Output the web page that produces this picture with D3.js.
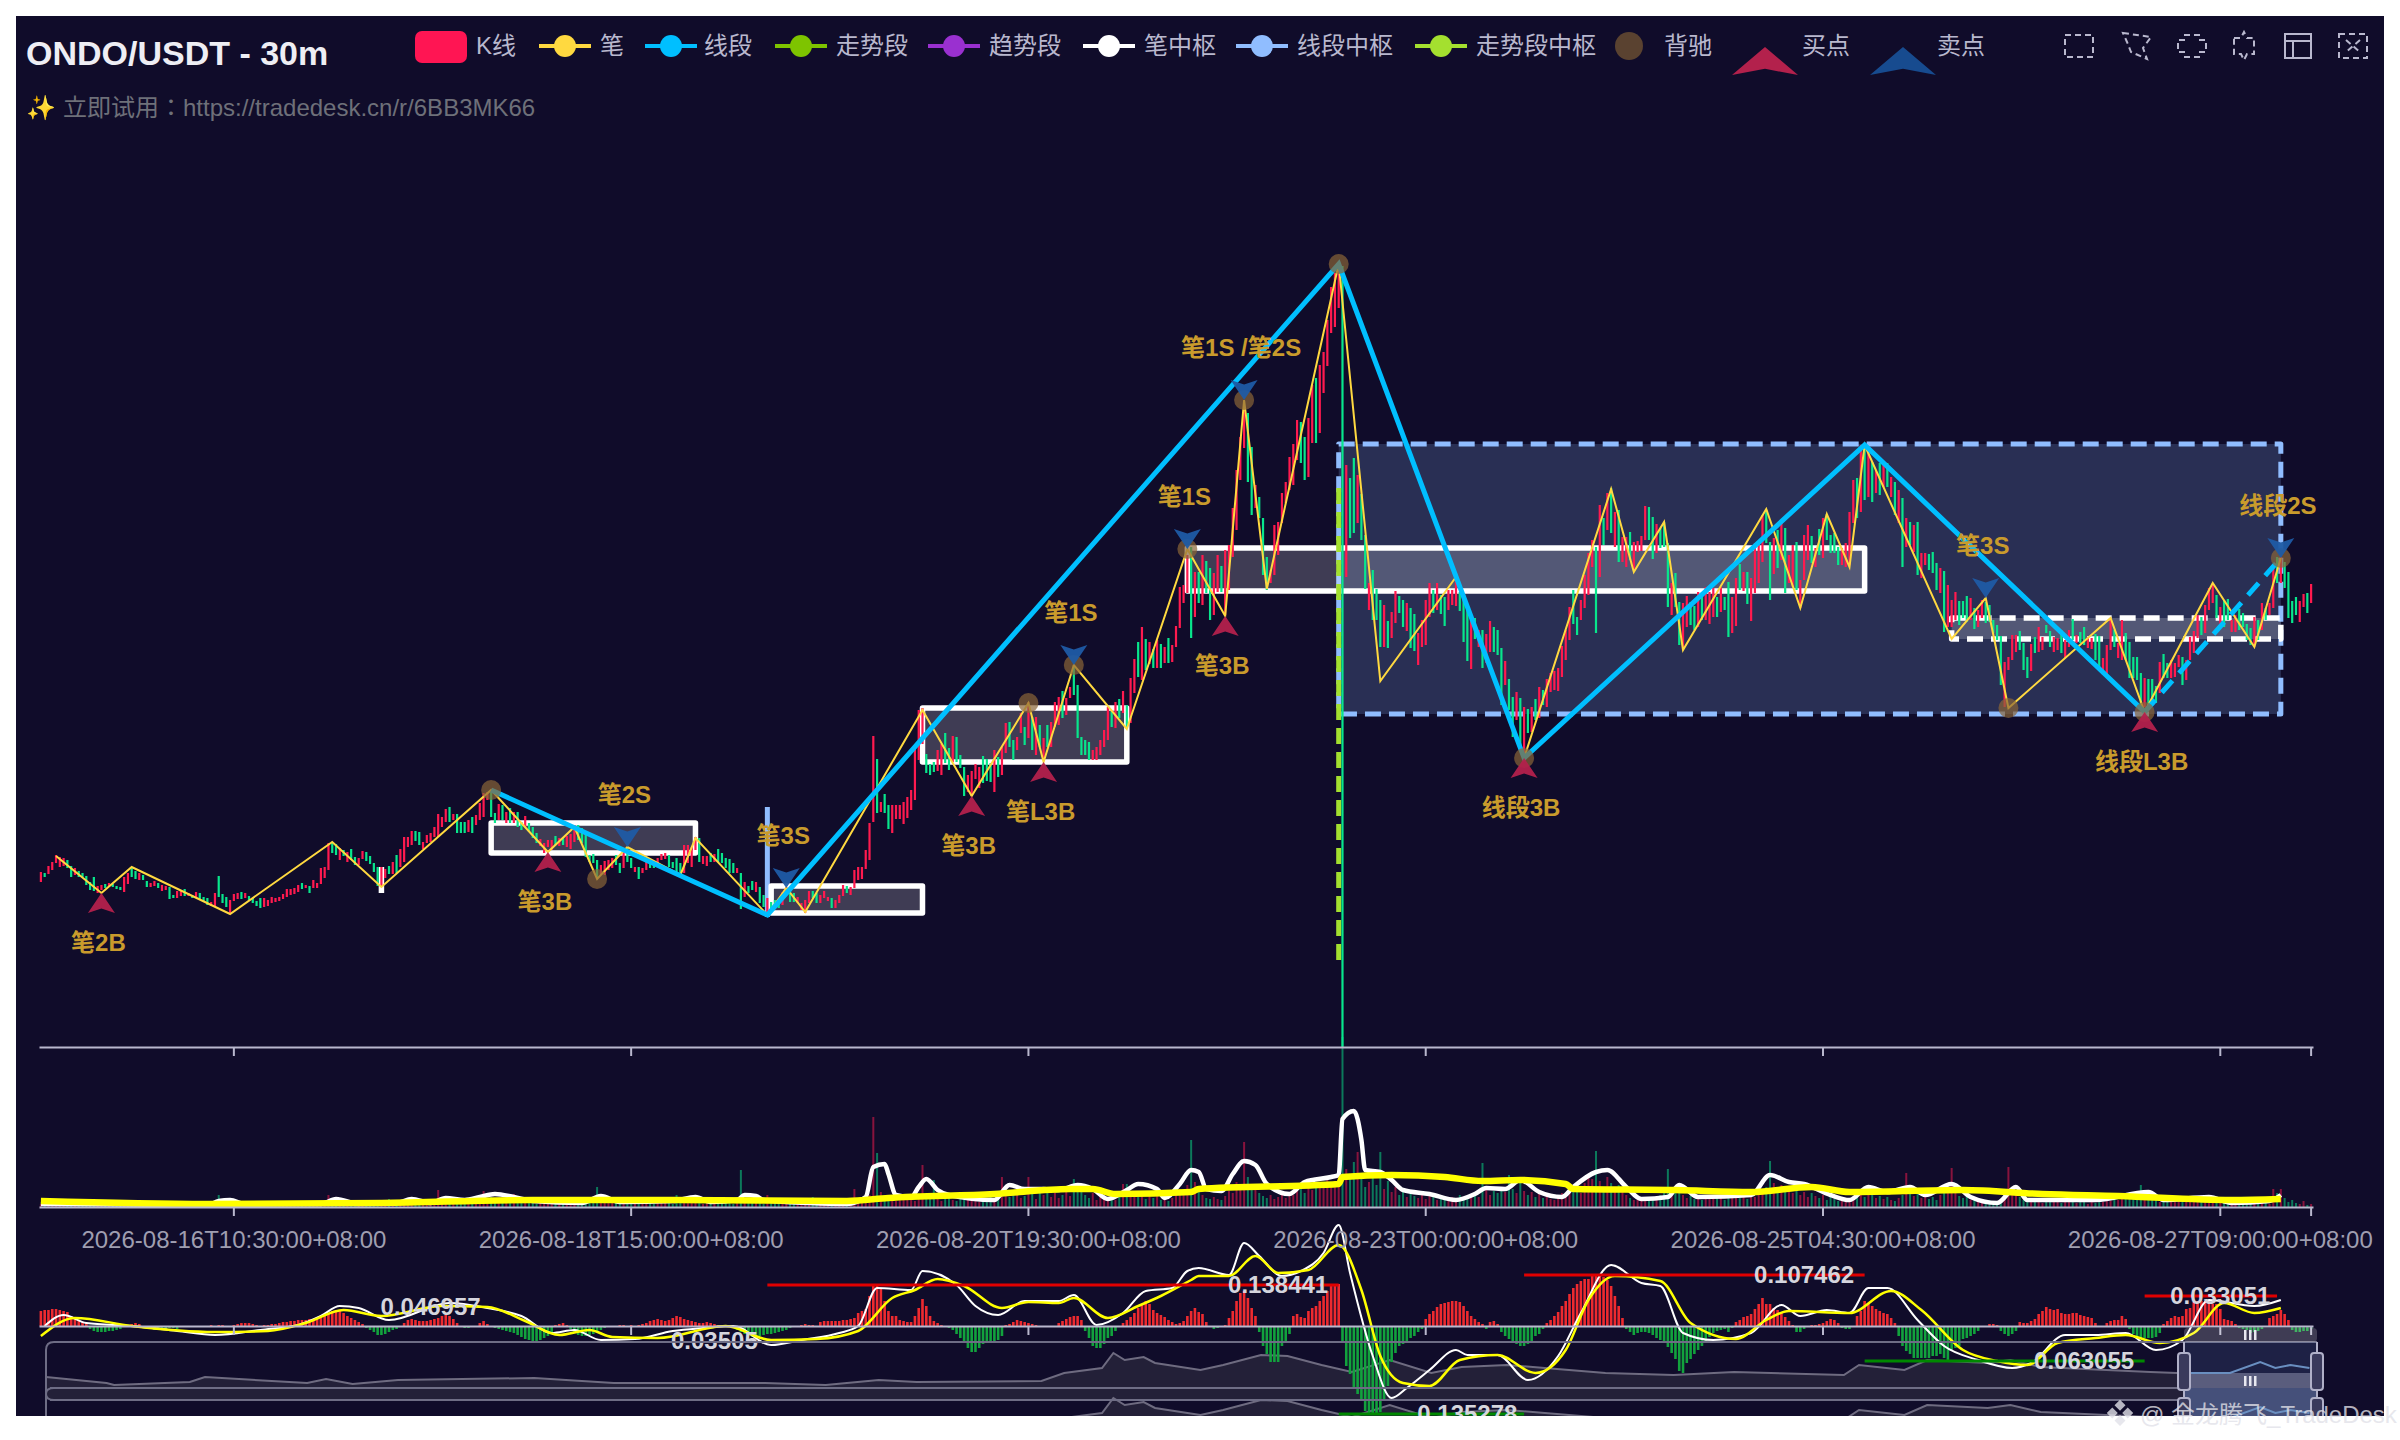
<!DOCTYPE html>
<html>
<head>
<meta charset="utf-8">
<title>ONDO/USDT - 30m</title>
<script src="https://cdn.jsdelivr.net/npm/d3@7"></script>
<style>
  html, body { margin: 0; background: #fff; }
  svg { display: block; }
  text { font-family: "Liberation Sans", "Noto Sans CJK JP", sans-serif; }
</style>
</head>
<body>
<svg id="chart" width="2400" height="1440"></svg>
<script>
// price is read off the picture in chart units (the original has no price axis)
// each bar is [open, close], red when close > open
const candleBars = [
[165,175],[174,170],[173,181],[177,185],[184,192],[180,190],[181,189],[187,179],[181,170],[172,179],
[176,170],[174,170],[171,162],[165,157],[170,156],[154,161],[157,162],[163,159],[160,164],[163,160],
[161,158],[160,157],[155,170],[163,174],[179,170],[176,168],[167,174],[172,167],[166,160],[160,164],
[161,166],[164,159],[156,162],[157,161],[160,148],[152,149],[149,156],[151,156],[158,151],[151,154],
[152,149],[149,155],[154,148],[150,145],[149,142],[141,145],[140,154],[171,150],[153,144],[150,140],
[133,147],[146,153],[148,154],[155,148],[149,154],[151,146],[149,144],[146,141],[149,139],[140,149],
[141,147],[144,150],[145,149],[146,150],[148,153],[150,158],[152,158],[153,159],[155,162],[164,158],
[159,162],[161,154],[159,167],[159,164],[163,179],[169,180],[177,204],[205,194],[203,192],[187,199],
[197,191],[185,195],[198,187],[190,182],[182,189],[188,196],[195,186],[191,183],[184,175],[180,161],
[160,180],[169,178],[181,173],[173,185],[192,174],[180,198],[185,210],[200,210],[202,216],[216,206],
[215,202],[198,205],[204,212],[205,214],[210,220],[210,233],[220,230],[225,238],[240,225],[227,233],
[233,214],[225,214],[225,214],[215,227],[230,214],[222,232],[227,244],[230,254],[247,255],[255,230],
[234,224],[227,243],[242,227],[224,235],[239,224],[224,235],[235,220],[225,217],[220,231],[224,215],
[220,209],[214,204],[201,208],[194,204],[200,207],[197,207],[211,202],[201,209],[210,202],[200,211],
[198,213],[205,222],[222,207],[219,204],[214,190],[192,185],[193,184],[187,168],[172,182],[172,186],
[177,187],[179,189],[192,182],[184,174],[179,195],[200,185],[189,179],[175,180],[180,168],[174,179],
[177,185],[187,179],[185,179],[182,189],[187,193],[188,194],[192,180],[185,179],[189,174],[184,172],
[174,202],[184,202],[180,200],[197,210],[209,185],[183,191],[181,191],[194,185],[185,193],[198,185],
[194,184],[189,179],[188,174],[184,174],[174,179],[174,138],[150,165],[161,154],[166,157],[155,165],
[160,144],[152,140],[131,149],[145,137],[147,138],[144,139],[142,155],[152,160],[159,145],[154,145],
[144,150],[137,144],[134,147],[144,156],[156,149],[154,144],[144,152],[149,156],[146,150],[149,139],
[139,147],[144,152],[151,162],[161,154],[152,160],[159,177],[167,180],[168,180],[178,197],[187,224],
[225,311],[288,234],[235,245],[253,234],[242,218],[214,242],[228,242],[228,242],[223,245],[229,250],
[237,257],[247,299],[287,337],[303,339],[293,274],[283,272],[285,275],[276,297],[272,303],[314,284],
[299,277],[285,311],[310,285],[292,279],[280,251],[255,272],[251,276],[268,283],[259,280],[291,264],
[288,266],[284,265],[255,297],[290,270],[272,300],[294,324],[325,300],[307,287],[297,310],[314,334],
[320,302],[309,345],[330,297],[292,330],[322,300],[287,309],[322,300],[300,325],[320,345],[322,350],
[356,329],[332,349],[349,360],[382,352],[362,309],[310,292],[307,292],[305,287],[287,297],[287,300],
[292,307],[300,317],[307,340],[336,320],[319,345],[348,329],[334,356],[342,319],[324,369],[354,388],
[405,370],[367,420],[408,377],[383,405],[398,379],[379,407],[403,379],[384,400],[409,384],[385,402],
[400,421],[419,460],[444,462],[454,492],[500,409],[430,475],[475,444],[442,492],[486,454],[479,427],
[432,474],[455,492],[481,455],[432,497],[457,502],[490,539],[517,577],[567,610],[599,640],[634,565],
[600,532],[539,562],[550,529],[529,472],[490,457],[464,477],[472,522],[492,525],[524,554],[544,565],
[557,590],[562,603],[587,627],[625,584],[610,567],[570,629],[604,662],[669,604],[614,682],[654,695],
[681,727],[714,760],[720,774],[739,782],[781,0],[470,582],[569,509],[589,514],[524,572],[553,507],
[512,458],[437,464],[477,427],[458,427],[447,400],[400,442],[426,399],[409,435],[424,456],[451,434],
[447,420],[416,444],[439,399],[433,396],[382,414],[400,427],[402,447],[430,464],[457,434],[437,464],
[452,433],[450,421],[437,457],[442,457],[441,471],[455,436],[450,405],[437,386],[378,430],[429,408],
[400,417],[417,379],[384,413],[395,426],[420,395],[417,392],[399,342],[362,386],[368,337],[350,310],
[327,355],[349,299],[290,340],[338,314],[315,340],[348,327],[329,360],[357,342],[340,368],[355,374],
[357,376],[356,379],[370,401],[387,417],[407,440],[457,423],[430,412],[427,447],[439,472],[452,494],
[480,507],[500,414],[470,542],[529,502],[517,554],[559,514],[500,535],[537,485],[485,510],[480,510],
[515,487],[477,505],[495,506],[496,511],[507,541],[540,507],[530,488],[494,523],[519,499],[525,500],
[504,440],[432,464],[474,440],[445,402],[397,444],[420,451],[445,422],[441,417],[420,455],[455,427],
[427,460],[423,455],[430,459],[450,430],[435,460],[450,437],[465,410],[414,450],[421,469],[483,457],
[456,475],[475,443],[426,469],[454,504],[464,504],[485,532],[537,504],[505,447],[473,509],[517,479],
[487,525],[519,454],[464,492],[460,502],[505,457],[439,467],[467,512],[487,522],[511,484],[480,499],
[518,492],[489,529],[533,507],[512,494],[514,494],[500,482],[482,499],[480,504],[482,535],[524,567],
[569,529],[535,602],[602,547],[550,594],[585,545],[554,577],[584,552],[560,585],[584,560],[550,570],
[565,532],[524,557],[549,480],[500,529],[525,502],[495,522],[525,472],[469,494],[482,494],[493,477],
[495,474],[484,457],[454,479],[476,415],[420,462],[420,447],[427,455],[446,422],[446,429],[451,425],
[427,449],[439,418],[420,437],[429,447],[445,424],[442,425],[427,414],[422,407],[411,362],[340,385],
[377,390],[387,412],[395,412],[416,397],[404,377],[390,369],[376,403],[410,394],[395,420],[397,410],
[422,414],[416,400],[395,410],[397,409],[417,394],[389,407],[400,417],[428,407],[404,412],[415,404],
[420,402],[399,410],[398,409],[413,387],[411,377],[372,389],[370,402],[397,429],[417,400],[389,404],
[387,427],[414,387],[405,369],[390,369],[390,367],[374,340],[340,369],[368,342],[368,344],[361,344],
[354,385],[393,369],[384,369],[369,387],[370,384],[380,392],[390,362],[367,387],[387,410],[394,416],
[409,432],[430,412],[414,442],[437,459],[444,464],[452,429],[420,440],[447,420],[448,427],[415,427],
[415,432],[438,417],[434,420],[423,407],[419,402],[400,430],[427,407],[417,444],[439,427],[432,444],
[439,482],[490,464],[464,490],[485,459],[475,429],[446,424],[450,432],[425,446],[440,453],[454,434],
[444,463]
];
const volumes = [
3,2,4,3,5,2,6,3,4,2,3,5,2,4,3,2,6,4,3,2,5,3,2,4,6,3,2,4,3,5,2,3,4,2,5,3,2,4,3,6,2,3,2,4,3,2,5,12,4,3,
5,3,2,4,3,2,3,5,2,3,4,2,3,2,5,3,4,2,3,5,2,3,4,6,5,7,12,5,6,4,3,5,2,4,3,2,5,3,4,6,3,5,8,4,6,3,5,7,9,6,
4,8,6,5,7,17,6,9,5,4,7,6,5,8,6,9,8,16,7,10,9,6,8,5,7,13,6,5,4,7,5,3,6,4,5,3,4,6,5,7,4,8,5,6,9,4,10,20,7,5,
6,4,7,5,3,6,4,5,3,6,4,5,3,7,4,5,6,3,12,5,7,4,6,8,5,3,6,4,5,3,7,4,5,3,6,37,9,5,6,4,5,3,12,7,4,5,3,6,4,5,
3,6,4,5,10,3,6,4,5,7,3,4,6,4,6,18,7,6,9,12,90,54,15,10,8,12,6,9,13,10,7,6,8,42,12,9,27,10,6,15,9,7,6,8,10,7,6,9,5,7,
8,10,6,9,30,14,10,16,12,9,11,30,13,8,15,12,18,10,14,9,12,16,11,28,15,18,12,9,14,7,10,8,6,9,7,11,23,23,12,15,10,14,8,12,9,11,7,10,6,9,
12,18,14,22,67,25,15,12,9,8,10,8,7,11,16,14,25,20,65,30,18,22,14,11,9,12,8,10,14,9,15,12,16,18,14,20,17,22,19,24,28,20,26,30,170,38,30,45,55,28,
20,25,30,22,55,18,26,15,20,12,16,10,14,11,9,12,8,14,10,7,9,11,6,10,8,12,7,9,13,15,10,44,18,12,16,14,20,15,32,18,14,24,16,12,15,10,13,9,11,8,
7,10,14,12,16,22,18,14,24,30,28,56,26,20,30,24,18,22,15,12,9,7,11,6,10,8,9,7,12,14,38,16,18,20,12,9,11,8,10,7,9,12,8,11,9,7,10,13,15,9,
12,8,14,10,18,16,20,46,24,18,22,16,20,14,18,12,15,10,14,11,9,12,7,10,8,6,9,7,5,8,11,14,10,16,12,9,11,8,10,7,6,9,12,34,15,11,14,9,12,8,
10,7,12,15,18,39,16,11,9,13,7,10,6,8,5,7,4,5,8,12,40,20,14,10,7,5,6,8,5,4,6,7,5,8,4,6,5,7,4,6,5,3,6,4,7,5,8,6,9,7,
10,12,9,13,8,22,11,14,10,7,5,6,8,5,7,6,9,5,8,6,10,7,9,5,6,4,5,7,3,4,6,3,5,4,7,3,5,4,6,3,18,14,18,9,5,7,4,3,6,2,3
];
const macdHist = [
15,16,16,17,17,16,15,14, 10,8,6,4,3, -3,-5,-6,-6,-6,-5,-5,-4,-3,-1, 1,2,3,2,
-1,-2,-3,-4,-4,-3,-3,-2,-2,-3, -1,0,0,-1,-1,0,-1,0,1,0,1,1,0,0,1, 2,3,3,3,2,1,0,
1,1,2,2,3,4,4,5,5,6,6,6,7,7,8,8,10, 13,15,16,15,13,10,8,6,4,2,
-2,-4,-6,-9,-9,-8,-6,-4,-3,-1, 3,6,7,6,5,5,5,6,7,8,10,11,10,7,3, -1,-2,-2,-1,0, 3,5,2,
-1,-2,-3,-4,-5,-6,-7, -9,-11,-13,-14,-15,-15,-14,-12,-10,-8, 1,2,3,1,
-3,-6,-9,-10,-10,-9,-8,-6,-4,-2,-1, 0,0,1,1,0,1,0,
1,2,3,5,6,7,6,5,6,8,10,9,7,6,5,4,3,3,4,3,2,1,0,0,0,
-2,-4,-6,-8,-10,-11,-12,-10,-9,-8,-8,-7,-6,-5,-4,-2,-1, 0,1,2,1,1,0,
4,5,5,5,5,5,6,6,7,8, 13,15,17,30,40,40,38,25,15,10, 10,6,5,4,4,10,18,27,20,10, 5,3,1,0,
-2,-4,-8,-12,-17,-22,-26,-26,-22,-18,-17,-16,-15,-14,-10, 1,2,4,6,5,4,3,2,1,0,-1,0,-1,0,
3,5,7,9,10,10,6, -5,-12,-20,-22,-22,-18,-12,-10,-5,-1,
3,6,9,13,18,22,25,22,16,13,11,9,6,4,2, 3,5,10,15,18, 14,12,4,-1,-3,-2,0,1,
8,15,25,33,35,28,18,10, -6,-20,-28,-36,-36,-36,-20,-15,-8, 10,12,9,8,15,18,20,25,30,35,40,42,42,
-15,-40,-48,-62,-68,-75,-85,-87,-88,-87,-86,-75,-60,-36,-27,-20,-18,-15,-12,-10,-6,-3,
7,12,15,19,22,23,24,25,25,24,20,15,10,7,4, 2,-3,4,5,2, -6,-10,-13,-15,-18,-20,-20,-18,-15,-10,-8,-3,
3,6,10,14,20,25,32,38,42,45,47,47,50,51,50,49,46,40,30,20,8,
-3,-6,-9,-7,-6,-6,-7,-9,-12,-14,-17,-21,-27,-33,-45,-47,-37,-33,-28,-24,-20,-15,-11,-7,-5,-4,-3,-6,-2,
4,6,9,10,12,17,22,28,22,22,18,16,14,9,5,1, -6,-6,-3,0,1,1,2,3,5,7,6,3,-2,-3,-3,
-1,10,15,25,22,20,17,15,13,12,8,3, -10,-20,-25,-28,-32,-32,-32,-32,-32,-30,-30,-28,-32,-34,-25,-22,-20,-13,-12,-10,-8,-5,
0,0,2,2,1,-5,-8,-10,-8,-5, 4,3,3,5,7,12,15,19,17,16,17,13,12,12,13,13,11,10,9,8,3,0,-1,
3,5,6,6,10,7, -3,-8,-11,-12,-12,-12,-12,-11,-7, 2,5,8,10,9,10,17,18,24,25,25,25,26,22,22,17,7,6,5,2,
-2,-3,-4,-7,-6,-5,-3,-1, 8,10,12,16,12,6, -4,-6,-6,-5,-5,-3
];

// chan structure, [bar index, price]
const penPoints = [[4,191],[16,154],[24,180],[50,133],[77,205],[90,160],[119,257],[134,195],[141,220],[147,168],[155,200],[169,172],[173,209],[192,132],[197,159],[202,135],[233,337],[246,251],[261,344],[265,285],[273,382],[287,318],[303,498],[313,431],[318,647],[324,458],[343,783],[354,366],[374,470],[392,289],[415,558],[421,475],[429,525],[434,397],[456,538],[465,439],[472,533],[478,480],[482,602],[505,408],[514,449],[520,339],[547,429],[556,335],[574,464],[585,400],[592,489]];
const segmentPoints = [[119,257],[192,132],[343,783],[392,289],[482,602],[556,335],[592,489]];
// [first bar, last bar, low, high]
const penPivots = [[90,90,154,180],[119,173,194,224],[193,233,134,161],[233,287,285,339],[303,482,456,499],[505,592,408,429]];
const segmentPivots = [[192,192,130,240],[343,592,333,603]];
const trendPivots = [[343,343,80,559]];
const divergences = [[119,257],[147,168],[261,344],[273,382],[303,498],[318,647],[343,783],[392,289],[520,339],[556,335],[592,489]];
const buyPoints = [[16,154,"笔2B"],[134,195,"笔3B"],[246,251,"笔3B"],[265,285,"笔L3B"],[313,431,"笔3B"],[392,289,"线段3B"],[556,335,"线段L3B"]];
const sellPoints = [[155,200,"笔2S"],[197,159,"笔3S"],[273,382,"笔1S"],[303,498,"笔1S"],[318,647,"笔1S /笔2S"],[514,449,"笔3S"],[592,489,"线段2S"]];

// volume averages
const volFast = [[0,3],[44,2],[47,6],[50,7],[54,3],[74,3],[78,8],[84,3],[94,4],[98,8],[103,4],[107,9],[112,7],[116,10],[120,13],[125,10],[130,6],[143,4],[148,11],[153,5],[167,6],[173,10],[177,5],[184,7],[186,12],[189,11],[191,7],[203,4],[213,3],[218,10],[220,40],[223,43],[224,33],[226,12],[230,10],[232,20],[234,28],[237,17],[240,12],[252,7],[256,22],[260,18],[265,18],[269,17],[274,22],[278,18],[282,8],[287,17],[290,23],[295,18],[297,9],[301,23],[304,37],[306,35],[308,18],[312,16],[315,33],[318,46],[321,42],[324,23],[330,13],[334,25],[341,30],[343,32],[344,88],[347,96],[349,67],[350,37],[354,35],[357,27],[360,17],[367,13],[374,7],[379,13],[382,19],[387,18],[391,27],[396,15],[402,10],[405,20],[411,35],[414,37],[419,20],[423,8],[430,10],[433,22],[438,10],[452,12],[457,32],[462,25],[466,23],[473,12],[478,7],[483,20],[488,15],[494,20],[498,12],[505,23],[510,10],[517,4],[522,20],[525,7],[543,7],[557,15],[561,7],[573,10],[579,4],[589,6],[592,12]];
const volSlow = [[0,6],[44,3],[90,4],[130,7],[167,7],[213,6],[224,9],[252,13],[272,18],[278,18],[284,13],[304,15],[306,18],[343,23],[344,30],[357,32],[371,30],[381,26],[391,27],[403,23],[405,18],[432,17],[452,15],[468,20],[478,15],[508,17],[529,13],[549,11],[579,7],[592,8]];

// MACD lines
const difLine = [[1,0],[6,11],[12,3],[24,0],[36,-5],[46,-9],[58,-4],[68,1],[74,10],[79,20],[84,18],[92,6],[108,23],[118,18],[127,10],[135,-7],[141,-4],[148,-14],[157,-13],[167,-5],[175,-2],[183,0],[193,-19],[201,-14],[211,-7],[216,0],[221,38],[230,36],[233,55],[242,41],[247,20],[253,11],[260,25],[269,25],[273,31],[279,1],[286,13],[292,35],[299,38],[303,55],[306,58],[314,51],[318,83],[322,70],[328,50],[333,55],[339,73],[343,101],[346,53],[352,-30],[357,-72],[361,-62],[367,-44],[374,-24],[377,-29],[385,-29],[393,-54],[401,-30],[407,13],[415,61],[423,43],[428,40],[434,-7],[442,-14],[452,-7],[460,21],[465,10],[472,16],[478,13],[483,38],[488,38],[496,6],[503,-20],[512,-34],[521,-42],[526,-37],[535,-9],[543,-9],[551,-7],[559,-24],[566,-14],[573,26],[585,20],[592,26]];
const deaLine = [[0,-10],[9,8],[24,0],[46,-6],[60,-5],[70,3],[80,16],[90,10],[106,20],[118,19],[128,5],[137,-9],[145,-4],[151,-11],[163,-12],[181,0],[193,-14],[205,-13],[216,-5],[225,28],[231,36],[237,47],[244,40],[254,18],[261,24],[269,23],[273,28],[282,8],[290,20],[296,30],[304,46],[306,50],[314,50],[321,70],[327,53],[335,56],[343,81],[349,36],[354,-30],[360,-57],[367,-60],[375,-34],[385,-29],[395,-47],[403,-24],[409,26],[416,50],[428,45],[436,3],[448,-13],[456,6],[462,15],[478,13],[489,35],[497,16],[508,-24],[517,-35],[525,-39],[533,-17],[543,-12],[551,-9],[560,-17],[569,-7],[577,23],[585,13],[592,18]];
// MACD marks: [first bar, last bar, level, label bar, label]
const macdMarks = [[103,103,19,103,"0.046957"],[178,178,-15,178,"0.03505"],[192,343,41,327,"0.138441"],[343,392,-88,377,"0.135278"],[392,482,51,466,"0.107462"],[482,556,-35,540,"0.063055"],[556,591,30,576,"0.033051"]];

// overview shape in the zoom slider
const sliderTrend = [[0,11],[16,5],[18,3],[38,6],[42,11],[69,5],[74,9],[81,4],[93,8],[129,10],[150,5],[190,5],[206,3],[220,8],[230,6],[263,7],[269,15],[279,20],[282,35],[285,28],[290,31],[293,25],[305,18],[311,23],[321,33],[328,32],[337,23],[345,16],[355,28],[366,15],[374,21],[386,23],[396,20],[412,15],[430,13],[446,16],[475,13],[479,23],[491,18],[497,28],[513,25],[519,28],[527,21],[556,16],[563,15],[577,15],[585,26],[589,20],[593,23],[598,20]];

const tickBars = [51,156,261,366,471,576,600];
const tickLabels = ["2026-08-16T10:30:00+08:00","2026-08-18T15:00:00+08:00","2026-08-20T19:30:00+08:00","2026-08-23T00:00:00+08:00","2026-08-25T04:30:00+08:00","2026-08-27T09:00:00+08:00",""];

const legendItems = ["K线","笔","线段","走势段","趋势段","笔中枢","线段中枢","走势段中枢","背驰","买点","卖点"];
const legendColors = ["#ff1553","#ffd940","#00bfff","#7ec400","#9a30d0","#ffffff","#90bdff","#a4e02f","#5a4230","#b3214c","#174b8f"];
const legendSymbolX = [441,565,671,801,954,1109,1262,1441,1629,1765,1903];
const legendTextX = [476,600,704,836,989,1144,1297,1476,1664,1802,1937];

const upColor = "#ff1a4f", downColor = "#08e68c";
const svg = d3.select("#chart");
const defs = svg.append("defs");
defs.append("clipPath").attr("id", "panel").append("rect").attr("x", 16).attr("y", 16).attr("width", 2368).attr("height", 1400);
defs.append("clipPath").attr("id", "sliderWindow").append("rect").attr("x", 2184).attr("y", 1342).attr("width", 133).attr("height", 74);
defs.append("clipPath").attr("id", "sliderOutside").append("rect").attr("x", 46).attr("y", 1342).attr("width", 2138).attr("height", 74);

svg.append("rect").attr("x", 16).attr("y", 16).attr("width", 2368).attr("height", 1400).attr("fill", "#100c2a");
const root = svg.append("g").attr("clip-path", "url(#panel)");

// scales
const xBand = d3.scaleBand().domain(d3.range(candleBars.length)).range([39, 2313]);
const xAt = i => xBand(i) + xBand.bandwidth() / 2;
const yPrice = d3.scaleLinear().domain([0, 800]).range([1047, 247]);
const yVol = d3.scaleLinear().domain([0, 160]).range([1207, 1047]);
const yMacd = d3.scaleLinear().domain([-100, 100]).range([1426, 1226]);
const xSlider = d3.scaleLinear().domain([0, 600]).range([46, 2317]);
const ySliderA = d3.scaleLinear().domain([0, 40]).range([1388, 1348]);
const ySliderB = d3.scaleLinear().domain([0, 40]).range([1433, 1393]);

const priceLine = d3.line().x(d => xAt(d[0])).y(d => yPrice(d[1]));
const volLine = d3.line().x(d => xAt(d[0])).y(d => yVol(d[1])).curve(d3.curveMonotoneX);
const macdLine = d3.line().x(d => xAt(d[0])).y(d => yMacd(d[1])).curve(d3.curveMonotoneX);

// ---- zoom slider background ----
function drawSliderArea(g, yScale, lineColor, fillColor) {
  g.append("path").datum(sliderTrend)
    .attr("d", d3.area().x(d => xSlider(d[0])).y0(yScale(0)).y1(d => yScale(d[1])))
    .attr("fill", fillColor);
  g.append("path").datum(sliderTrend)
    .attr("d", d3.line().x(d => xSlider(d[0])).y(d => yScale(d[1])))
    .attr("fill", "none").attr("stroke", lineColor).attr("stroke-width", 2);
}
const sliderBack = root.append("g").attr("clip-path", "url(#sliderOutside)");
sliderBack.append("rect").attr("x", 46).attr("y", 1388).attr("width", 2271).attr("height", 12).attr("fill", "#232038");
drawSliderArea(sliderBack, ySliderA, "#6e6b80", "#232038");
drawSliderArea(sliderBack, ySliderB, "#6e6b80", "#232038");

// ---- main pane: pivot areas ----
// a pivot one bar wide is a plain vertical line, so its dashes do not double up
function pivotPath(d) {
  if (d[0] === d[1]) return `M${xAt(d[0])},${yPrice(d[3])}V${yPrice(d[2])}`;
  return `M${xAt(d[0])},${yPrice(d[3])}H${xAt(d[1])}V${yPrice(d[2])}H${xAt(d[0])}Z`;
}
function drawPivots(list, stroke, fill, width) {
  root.append("g").selectAll("path").data(list).join("path")
    .attr("d", pivotPath)
    .attr("fill", fill)
    .attr("stroke", stroke)
    .attr("stroke-width", width)
    .attr("stroke-linejoin", "round")
    .attr("stroke-dasharray", (d, i) => i === list.length - 1 ? "16 8" : null);
}
drawPivots(segmentPivots, "#90bdff", "rgba(144,190,255,0.2)", 5);
drawPivots(penPivots, "#ffffff", "rgba(255,255,255,0.2)", 5.5);
drawPivots(trendPivots, "#a4e02f", "none", 5);

// candles
root.append("g").selectAll("rect").data(candleBars).join("rect")
  .attr("x", (d, i) => xAt(i) - 1.1)
  .attr("width", 2.2)
  .attr("y", d => yPrice(Math.max(d[0], d[1])))
  .attr("height", d => Math.abs(yPrice(d[0]) - yPrice(d[1])))
  .attr("fill", d => d[1] > d[0] ? upColor : downColor);

// pens and segments
root.append("path").datum(penPoints).attr("d", priceLine)
  .attr("fill", "none").attr("stroke", "#ffd940").attr("stroke-width", 2);
root.append("path").datum(segmentPoints.slice(0, -1)).attr("d", priceLine)
  .attr("fill", "none").attr("stroke", "#00bfff").attr("stroke-width", 5);
root.append("path").datum(segmentPoints.slice(-2)).attr("d", priceLine)
  .attr("fill", "none").attr("stroke", "#00bfff").attr("stroke-width", 5).attr("stroke-dasharray", "16 10");

// divergence dots
root.append("g").selectAll("circle").data(divergences).join("circle")
  .attr("cx", d => xAt(d[0])).attr("cy", d => yPrice(d[1])).attr("r", 10)
  .attr("fill", "#8a6538").attr("opacity", 0.7);

// buy and sell arrows with labels
const arrowPath = (w, h) => `M0,0L${w / 2},${h}L0,${h * 0.78}L${-w / 2},${h}Z`;
const buys = root.append("g").selectAll("g").data(buyPoints).join("g")
  .attr("transform", d => `translate(${xAt(d[0])},${yPrice(d[1])})`);
buys.append("path").attr("d", arrowPath(27, 20)).attr("fill", "#b3214c").attr("opacity", 0.95);
buys.append("text").attr("x", -3).attr("y", 49.5).attr("dy", "0.35em").text(d => d[2]);
const sells = root.append("g").selectAll("g").data(sellPoints).join("g")
  .attr("transform", d => `translate(${xAt(d[0])},${yPrice(d[1])})`);
sells.append("path").attr("d", arrowPath(27, 20)).attr("transform", "scale(1,-1)").attr("fill", "#1f5ba5").attr("opacity", 0.95);
sells.append("text").attr("x", -3).attr("y", -52).attr("dy", "0.35em").text(d => d[2]);
root.selectAll("g g text").attr("text-anchor", "middle").attr("font-size", 24).attr("font-weight", "bold").attr("fill", "#c99b2c");

// ---- volume pane ----
root.append("g").selectAll("rect").data(volumes).join("rect")
  .attr("x", (d, i) => xAt(i) - 1)
  .attr("width", 2)
  .attr("y", d => yVol(d))
  .attr("height", d => yVol(0) - yVol(d))
  .attr("fill", (d, i) => candleBars[i][1] > candleBars[i][0] ? upColor : downColor)
  .attr("opacity", 0.5);
root.append("path").datum(volFast).attr("d", volLine).attr("fill", "none").attr("stroke", "#ffffff").attr("stroke-width", 4.5);
root.append("path").datum(volSlow).attr("d", volLine).attr("fill", "none").attr("stroke", "#ffff00").attr("stroke-width", 6.5);

// ---- MACD pane ----
root.append("g").selectAll("rect").data(macdHist).join("rect")
  .attr("x", (d, i) => xAt(i) - 1.3)
  .attr("width", 2.6)
  .attr("y", d => yMacd(Math.max(d, 0)))
  .attr("height", d => Math.abs(yMacd(d) - yMacd(0)))
  .attr("fill", d => d > 0 ? "#ee2a2f" : "#12a23d");
root.append("path").datum(difLine).attr("d", macdLine).attr("fill", "none").attr("stroke", "#ffffff").attr("stroke-width", 2);
root.append("path").datum(deaLine).attr("d", macdLine).attr("fill", "none").attr("stroke", "#ffff00").attr("stroke-width", 2.5);
root.append("g").selectAll("line").data(macdMarks).join("line")
  .attr("x1", d => xAt(d[0])).attr("x2", d => xAt(d[1]))
  .attr("y1", d => yMacd(d[2])).attr("y2", d => yMacd(d[2]))
  .attr("stroke", d => d[2] > 0 ? "#e00000" : "#008800").attr("stroke-width", 3);
root.append("g").selectAll("text").data(macdMarks).join("text")
  .attr("x", d => xAt(d[3])).attr("y", d => yMacd(d[2])).attr("dy", "0.35em")
  .attr("text-anchor", "middle").attr("font-size", 24).attr("font-weight", "bold").attr("fill", "#d5d5dd")
  .text(d => d[4]);

// ---- axes ----
function drawAxis(y, withLabels) {
  const axis = d3.axisBottom(xBand).tickValues(tickBars).tickSize(9).tickSizeOuter(0).tickPadding(15)
    .tickFormat((d, i) => withLabels ? tickLabels[i] : "");
  const g = root.append("g").attr("transform", `translate(0,${y})`).call(axis);
  g.select(".domain").attr("stroke", "#b9b8ce").attr("stroke-width", 2);
  g.selectAll(".tick line").attr("stroke", "#b9b8ce").attr("stroke-width", 2);
  g.selectAll(".tick text").attr("fill", "#9f9eb0").attr("font-size", 24)
    .attr("font-family", '"Liberation Sans", sans-serif');
}
drawAxis(yPrice(0), false);
drawAxis(yVol(0), true);
drawAxis(yMacd(0), false);

// ---- zoom slider frame and window ----
const frame = root.append("g").attr("fill", "none").attr("stroke", "#6e6d85").attr("stroke-width", 2);
frame.append("path").attr("d", "M46,1420V1350Q46,1342 54,1342H2317");
frame.append("path").attr("d", "M50,1388H2317M50,1400H2317");
frame.append("path").attr("d", "M54,1388Q46,1388 46,1394Q46,1400 54,1400");
const win = root.append("g");
win.append("rect").attr("x", 2184).attr("y", 1328).attr("width", 133).attr("height", 14).attr("rx", 4).attr("fill", "rgba(255,255,255,0.2)");
win.append("rect").attr("x", 2184).attr("y", 1342).attr("width", 133).attr("height", 31).attr("fill", "rgba(135,175,255,0.13)");
win.append("rect").attr("x", 2184).attr("y", 1373).attr("width", 133).attr("height", 15).attr("fill", "#5a5d7d");
win.append("rect").attr("x", 2184).attr("y", 1388).attr("width", 133).attr("height", 30).attr("fill", "#45507a");
const inWindow = win.append("g").attr("clip-path", "url(#sliderWindow)");
inWindow.append("path").datum(sliderTrend)
  .attr("d", d3.line().x(d => xSlider(d[0])).y(d => ySliderA(d[1])))
  .attr("fill", "none").attr("stroke", "#6a8fc0").attr("stroke-width", 2);
inWindow.append("path").datum(sliderTrend)
  .attr("d", d3.line().x(d => xSlider(d[0])).y(d => ySliderB(d[1])))
  .attr("fill", "none").attr("stroke", "#6a8fc0").attr("stroke-width", 2);
[1335, 1381].forEach(y => {
  [-5, 0, 5].forEach(dx => {
    win.append("rect").attr("x", 2250 + dx - 1).attr("y", y - 5).attr("width", 2.5).attr("height", 10).attr("fill", "#e8e8f0");
  });
});
[2184, 2317].forEach(x => {
  win.append("line").attr("x1", x).attr("x2", x).attr("y1", 1342).attr("y2", 1416).attr("stroke", "#b0b0c8").attr("stroke-width", 2);
  win.append("rect").attr("x", x - 6).attr("y", 1353).attr("width", 12).attr("height", 37).attr("rx", 3)
    .attr("fill", "#3a3a5c").attr("stroke", "#b0b0c8").attr("stroke-width", 2);
  win.append("rect").attr("x", x - 6).attr("y", 1398).attr("width", 12).attr("height", 37).attr("rx", 3)
    .attr("fill", "#3a3a5c").attr("stroke", "#b0b0c8").attr("stroke-width", 2);
});

// ---- title ----
root.append("text").attr("x", 26).attr("y", 65).attr("font-size", 34).attr("font-weight", "bold").attr("fill", "#eeeef4").text("ONDO/USDT - 30m");
const sub = root.append("text").attr("x", 26).attr("y", 116).attr("font-size", 24).attr("fill", "#6e7079");
sub.append("tspan").attr("fill", "#8a7035").text("✨");
sub.append("tspan").attr("x", 63).text("立即试用：https://tradedesk.cn/r/6BB3MK66");

// ---- legend ----
const legend = root.append("g").selectAll("g").data(legendItems).join("g");
legend.append("text").attr("x", (d, i) => legendTextX[i]).attr("y", 46).attr("dy", "0.35em")
  .attr("font-size", 24).attr("fill", "#b9b8ce").text(d => d);
legend.each(function (d, i) {
  const g = d3.select(this), cx = legendSymbolX[i], c = legendColors[i];
  if (i === 0) {
    g.append("rect").attr("x", cx - 26).attr("y", 31).attr("width", 52).attr("height", 32).attr("rx", 7).attr("fill", c);
  } else if (i < 8) {
    g.append("line").attr("x1", cx - 26).attr("x2", cx + 26).attr("y1", 46).attr("y2", 46).attr("stroke", c).attr("stroke-width", 4);
    g.append("circle").attr("cx", cx).attr("cy", 46).attr("r", 11).attr("fill", c);
  } else if (i === 8) {
    g.append("circle").attr("cx", cx).attr("cy", 46).attr("r", 14).attr("fill", c);
  } else {
    g.append("path").attr("transform", `translate(${cx},47)`).attr("d", arrowPath(66, 28)).attr("fill", c);
  }
});

// ---- toolbox icons ----
const toolX = [2079, 2137, 2192, 2244, 2298, 2353];
const toolIcons = [
  "M-14,-11H14V11H-14Z",
  "M-14,-13L14,-9L6,2L10,13L-6,6L-10,-4Z",
  "M-8,-11H8V-6H14V6H8V11H-8V6H-14V-6H-8Z",
  "M-10,-8H-3L0,-14L3,-8H10V8H3L0,14L-3,8H-10Z",
  "M-13,-12H13V12H-13ZM-13,-5H13M-5,-5V12",
  "M-14,-12H14V12H-14ZM-7,-6L7,6M7,-6L-7,6"
];
root.append("g").selectAll("path").data(toolIcons).join("path")
  .attr("transform", (d, i) => `translate(${toolX[i]},46)`)
  .attr("d", d => d)
  .attr("fill", "none").attr("stroke", "#b9b8ce").attr("stroke-width", 2)
  .attr("stroke-dasharray", (d, i) => i === 4 ? null : "6 4");

// ---- watermark, runs over the page edge ----
svg.append("path").attr("transform", "translate(2120,1414) scale(1.1)")
  .attr("d", "M0,-13L5,-8L0,-3L-5,-8ZM-7,-6L-2,-1L-7,4L-12,-1ZM7,-6L12,-1L7,4L2,-1ZM0,1L5,6L0,11L-5,6Z")
  .attr("fill", "rgba(225,225,232,0.8)");
svg.append("text").attr("x", 2140).attr("y", 1423).attr("font-size", 24).attr("fill", "rgba(225,225,232,0.8)").text("@ 金龙腾飞_TradeDesk");
</script>
</body>
</html>
